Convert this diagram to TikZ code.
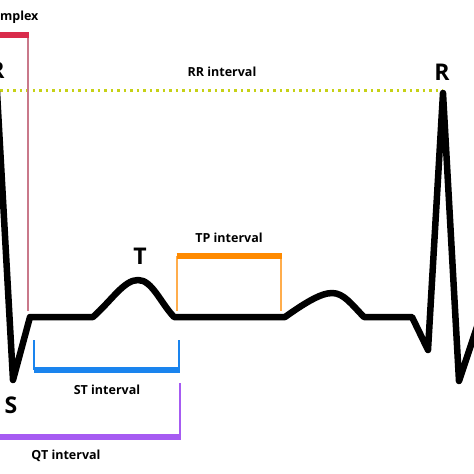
\documentclass[tikz,border=0pt]{standalone}
\usepackage{fontspec}
\setmainfont{Open Sans}
\usepackage{tikz}
\usetikzlibrary{positioning}

\definecolor{qrsred}{HTML}{D92B4B}
\definecolor{qrspink}{HTML}{C9788A}
\definecolor{rrgreen}{HTML}{C6D116}
\definecolor{tporange}{HTML}{FF8A00}
\definecolor{stblue}{HTML}{1A84EE}
\definecolor{qtpurple}{HTML}{A65BF2}

\begin{document}
\begin{tikzpicture}[x=1pt,y=-1pt,
    wave/.style={
      % the trace itself
      line width=6.5pt,line join=round,line cap=round,black
      },
    bar/.style={line width=6pt},
    tick/.style={line width=1.3pt},
    interval/.style={font=\fontsize{12.5}{14}\selectfont\bfseries},
    peak/.style={font=\fontsize{23}{25}\selectfont\bfseries}]
  \clip (0,0) rectangle (474,474);
  \fill[white] (0,0) rectangle (474,474);
  % points of the trace
  \coordinate (r1) at (-3,92);
  \coordinate (s1) at (13,380);
  \coordinate (j1) at (30,317);
  \coordinate (t-on) at (93,317);
  \coordinate (t-top) at (138,280);
  \coordinate (t-off) at (174,317);
  \coordinate (p-on) at (285,317);
  \coordinate (p-top) at (332,293);
  \coordinate (p-off) at (364,317);
  \coordinate (q2) at (412,317);
  \coordinate (q2-low) at (428,350);
  \coordinate (r2) at (443,93);
  \coordinate (s2) at (459,381);
  \coordinate (e2) at (480,318);
  % RR interval
  \draw[rrgreen,line width=3pt,dash pattern=on 2.5pt off 4pt] (0,90) -- (r2 |- 0,90);
  \node (rr) [interval] at (222,72) {RR interval};
  % QRS complex
  \draw[qrspink,tick] (28,35) -- (28,311);
  \draw[qrsred,bar] (-2,35) -- (29,35);
  \node (qrs) [interval,anchor=east] at (42,17) {QRS complex};
  % TP interval
  \draw[tporange!70,tick] (177,256) -- (177,311);
  \draw[tporange!70,tick] (281,256) -- (281,311);
  \draw[tporange,bar] (176.5,256) -- (281.5,256);
  \node (tp) [interval] at (229,238) {TP interval};
  % ST interval
  \draw[stblue,tick] (34,340) -- (34,370);
  \draw[stblue,tick] (179,340) -- (179,370);
  \draw[stblue,bar] (33.5,370) -- (179.5,370);
  \node (st) [interval] at (107,390) {ST interval};
  % QT interval
  \draw[qtpurple,tick] (180,383) -- (180,437);
  \draw[qtpurple,bar] (-2,437) -- (180.5,437);
  \node (qt) [interval] at (66,456) {QT interval};
  % the trace
  \draw[wave] (r1) -- (s1) -- (j1) -- (t-on)
    .. controls (112,300) and (124,280) .. (t-top)
    .. controls (152,280) and (160,302) .. (t-off)
    -- (p-on) .. controls (302,305) and (320,293) .. (p-top)
    .. controls (344,293) and (352,305) .. (p-off)
    -- (q2) -- (q2-low) -- (r2) -- (s2) -- (e2);
  % wave labels
  \node (r-left) [peak] at (-3,70) {R};
  \node (r-right) [peak] at (442,72) {R};
  \node (s-left) [peak] at (11,405) {S};
  \node (t-lab) [peak] at (140,256) {T};
\end{tikzpicture}
\end{document}
